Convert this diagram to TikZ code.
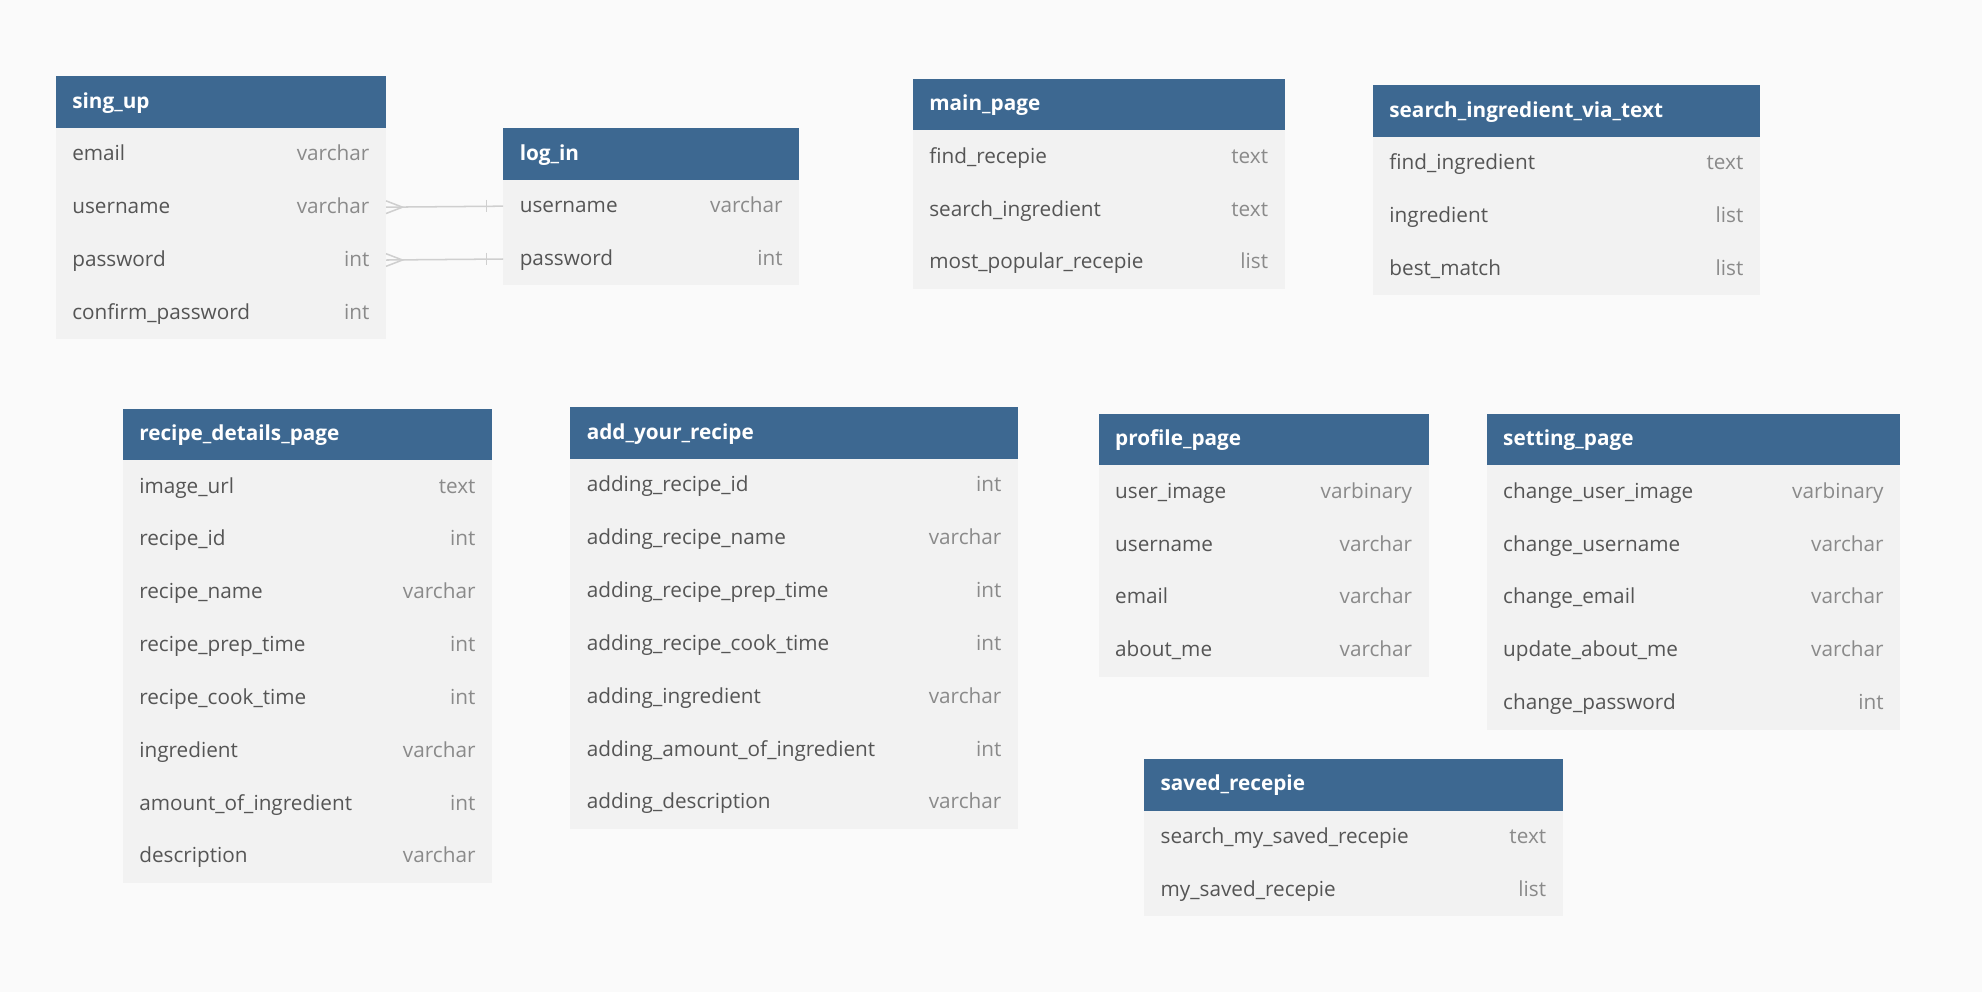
\documentclass[tikz,border=0pt]{standalone}
\usepackage{fontspec}
\setmainfont{Open Sans}
\definecolor{bgc}{HTML}{FAFAFA}
\definecolor{hdrc}{HTML}{3D6891}
\definecolor{rowc}{HTML}{F2F2F2}
\definecolor{namec}{HTML}{555555}
\definecolor{typec}{HTML}{8A8A8A}
\definecolor{linec}{HTML}{CFCFCF}
\tikzset{
  hdr/.style={fill=hdrc, draw=none, minimum height=41, inner sep=0},
  rowbox/.style={fill=rowc, draw=none, minimum height=41.8, inner sep=0},
  txt/.style={inner sep=0, text height=13, text depth=3, font=\fontsize{16.4}{19}\selectfont},
  ttl/.style={txt, text=white, font=\fontsize{16.4}{19}\selectfont\bfseries},
  fname/.style={txt, text=namec},
  ftype/.style={txt, text=typec},
  rel/.style={draw=linec, line width=1.2pt}
}
\newcommand\dbtab[6]{%
  \node[hdr, minimum width=#4, anchor=north west] (#1) at (#2,#3) {};
  \node[ttl, anchor=west] (#1-title) at ([xshift=13]#1.west) {#5};
  \foreach \fn/\ft [count=\i] in {#6} {
    \pgfmathsetmacro\yy{#3+41+(\i-1)*41.8}
    \node[rowbox, minimum width=#4, anchor=north west] (#1-r\i) at (#2,\yy) {};
    \node[fname, anchor=west] (#1-n\i) at ([xshift=13]#1-r\i.west) {\fn};
    \node[ftype, anchor=east] (#1-t\i) at ([xshift=-13]#1-r\i.east) {\ft};
  }
}
\begin{document}
\begin{tikzpicture}[x=1pt,y=-1pt]
\fill[bgc] (0,0) rectangle (1568,785);
\useasboundingbox (0,0) rectangle (1568,785);

\dbtab{signup}{44}{60}{261}{sing\_up}{email/varchar, username/varchar, password/int, confirm\_password/int}
\dbtab{login}{398}{101}{234}{log\_in}{username/varchar, password/int}
\dbtab{mainpage}{722}{62}{294}{main\_page}{find\_recepie/text, search\_ingredient/text, most\_popular\_recepie/list}
\dbtab{searchtext}{1086}{67}{306}{search\_ingredient\_via\_text}{find\_ingredient/text, ingredient/list, best\_match/list}
\dbtab{details}{97}{323}{292}{recipe\_details\_page}{image\_url/text, recipe\_id/int, recipe\_name/varchar, recipe\_prep\_time/int, recipe\_cook\_time/int, ingredient/varchar, amount\_of\_ingredient/int, description/varchar}
\dbtab{addrecipe}{451}{322}{354}{add\_your\_recipe}{adding\_recipe\_id/int, adding\_recipe\_name/varchar, adding\_recipe\_prep\_time/int, adding\_recipe\_cook\_time/int, adding\_ingredient/varchar, adding\_amount\_of\_ingredient/int, adding\_description/varchar}
\dbtab{profile}{869}{327}{261}{profile\_page}{user\_image/varbinary, username/varchar, email/varchar, about\_me/varchar}
\dbtab{setting}{1176}{327}{327}{setting\_page}{change\_user\_image/varbinary, change\_username/varchar, change\_email/varchar, update\_about\_me/varchar, change\_password/int}
\dbtab{saved}{905}{600}{331}{saved\_recepie}{search\_my\_saved\_recepie/text, my\_saved\_recepie/list}

% relations
\foreach \a/\b in {signup-r2/login-r1, signup-r3/login-r2} {
  \draw[rel] (\a.east) -- (\b.west);
  \draw[rel] ([yshift=5]\a.east) -- ([xshift=13]\a.east) -- ([yshift=-5]\a.east);
  \draw[rel] ([xshift=-13,yshift=5]\b.west) -- ([xshift=-13,yshift=-5]\b.west);
}
\end{tikzpicture}
\end{document}
